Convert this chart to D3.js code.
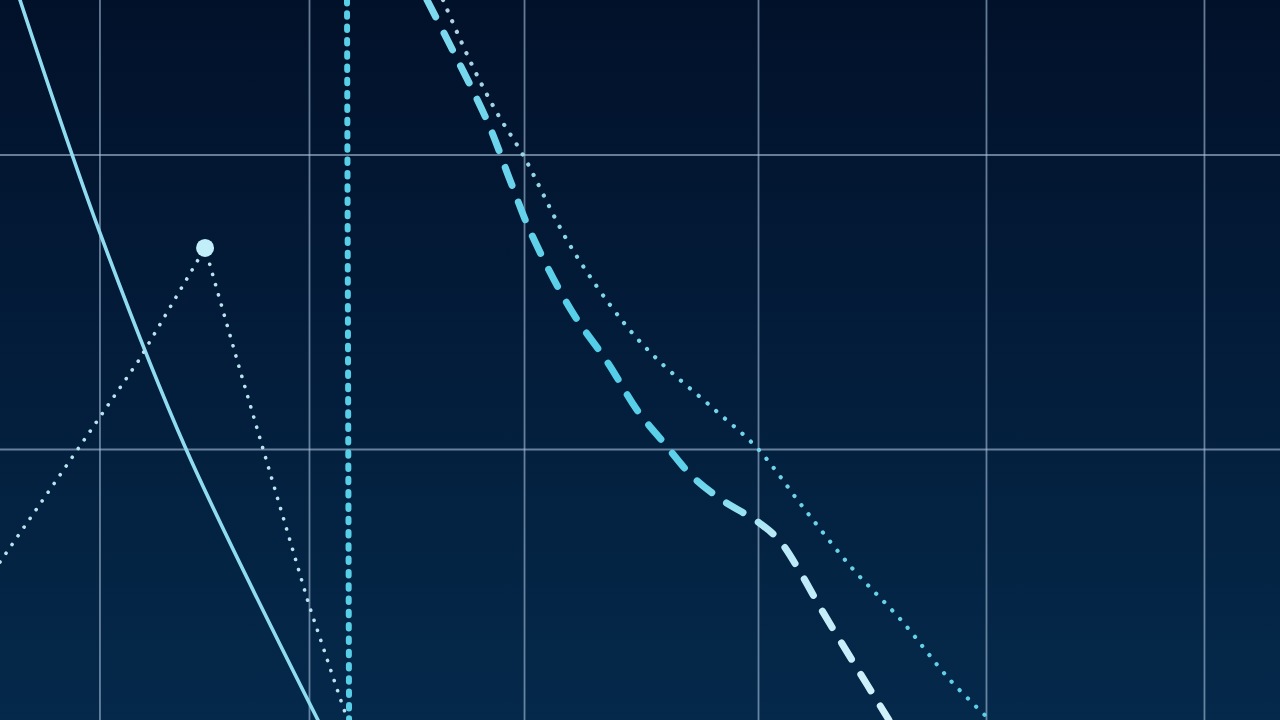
<!DOCTYPE html>
<html>
<head>
<meta charset="utf-8">
<script src="https://cdn.jsdelivr.net/npm/d3@7"></script>
<style>
  html, body { margin: 0; padding: 0; background: #031a33; }
  svg { display: block; }
</style>
</head>
<body>
<svg id="chart" width="1280" height="720"></svg>
<script>
// ---- data (x: 0..100 across, y: 0..100 bottom to top) ----
const xGridValues = [7.77, 24.14, 40.94, 59.22, 77.03, 94.06];
const yGridValues = [78.54, 37.64];

const solidX = [1.56, 7.81, 14.53, 24.84];
const solidY = [100, 67.64, 37.64, 0];

const peakX = [0, 6.09, 10.86, 16.02, 18.52, 20.55, 24.14, 26.80, 27.19];
const peakY = [21.94, 37.64, 50, 65.56, 50, 37.64, 15.97, 1.81, 0];
const peakMarkerX = [16.02];
const peakMarkerY = [65.56];

const verticalX = [27.11, 27.27];
const verticalY = [100, 0];

const dashedX = [33.36, 35.08, 38.13, 39.84, 41.48, 44.61, 47.50, 49.77, 51.88, 54.14, 56.41, 59.22, 60.86, 62.42, 64.06, 66.56, 69.45];
const dashedY = [100, 94.03, 82.92, 75, 67.64, 56.94, 49.58, 43.06, 38.47, 33.75, 30.56, 27.5, 25, 20.83, 15.69, 8.33, 0];

const dottedX = [34.61, 36.80, 38.83, 40.86, 44.61, 48.75, 51.41, 55.86, 59.22, 62.73, 66.56, 70.39, 74.22, 77.34];
const dottedY = [100, 91.25, 84.31, 78.47, 65.69, 55.14, 50, 43.06, 37.64, 29.58, 21.11, 13.89, 5.56, 0];

// ---- setup ----
const W = 1280, H = 720;
const svg = d3.select("#chart");
const x = d3.scaleLinear().domain([0, 100]).range([0, W]);
const y = d3.scaleLinear().domain([0, 100]).range([H, 0]);

const defs = svg.append("defs");
const bg = defs.append("linearGradient").attr("id", "bg")
  .attr("x1", 0).attr("y1", 0).attr("x2", 0).attr("y2", 1);
bg.append("stop").attr("offset", "0%").attr("stop-color", "#02112a");
bg.append("stop").attr("offset", "55%").attr("stop-color", "#031e3c");
bg.append("stop").attr("offset", "100%").attr("stop-color", "#05294b");

const dashGrad = defs.append("linearGradient").attr("id", "dashGrad")
  .attr("gradientUnits", "userSpaceOnUse")
  .attr("x1", 0).attr("y1", 0).attr("x2", 0).attr("y2", H);
dashGrad.append("stop").attr("offset", "0%").attr("stop-color", "#7fd9ee");
dashGrad.append("stop").attr("offset", "50%").attr("stop-color", "#52cde8");
dashGrad.append("stop").attr("offset", "66%").attr("stop-color", "#5fd2ea");
dashGrad.append("stop").attr("offset", "74%").attr("stop-color", "#b8e9f7");
dashGrad.append("stop").attr("offset", "100%").attr("stop-color", "#d2f1fb");

const dotGrad = defs.append("linearGradient").attr("id", "dotGrad")
  .attr("gradientUnits", "userSpaceOnUse")
  .attr("x1", 0).attr("y1", 0).attr("x2", 0).attr("y2", H);
dotGrad.append("stop").attr("offset", "0%").attr("stop-color", "#b4d2e2");
dotGrad.append("stop").attr("offset", "40%").attr("stop-color", "#7fd6ea");
dotGrad.append("stop").attr("offset", "100%").attr("stop-color", "#5ccfe6");

svg.append("rect").attr("width", W).attr("height", H).attr("fill", "url(#bg)");

// grid via axes
svg.append("g").attr("class", "grid-x")
  .attr("transform", `translate(0,${H})`)
  .call(d3.axisBottom(x).tickValues(xGridValues).tickSize(-H).tickFormat(""));
svg.append("g").attr("class", "grid-y")
  .call(d3.axisLeft(y).tickValues(yGridValues).tickSize(-W).tickFormat(""));
svg.selectAll(".grid-x .domain, .grid-y .domain").remove();
svg.selectAll(".grid-x line, .grid-y line")
  .attr("stroke", "#a8c2dc").attr("stroke-opacity", 0.6).attr("stroke-width", 1.8);

const pts = (xs, ys) => xs.map((v, i) => [v, ys[i]]);
const lineCurve = d3.line().x(d => x(d[0])).y(d => y(d[1])).curve(d3.curveCatmullRom.alpha(0.5));
const lineLin = d3.line().x(d => x(d[0])).y(d => y(d[1]));

// solid line
svg.append("path").attr("d", lineCurve(pts(solidX, solidY)))
  .attr("fill", "none").attr("stroke", "#8fdcf1").attr("stroke-width", 3.6)
  .attr("stroke-linecap", "round");

// peak dotted line
svg.append("path").attr("d", lineLin(pts(peakX, peakY)))
  .attr("fill", "none").attr("stroke", "#b9e3f0").attr("stroke-width", 3.6)
  .attr("stroke-dasharray", "0.1 10.5").attr("stroke-linecap", "round");
svg.selectAll("circle.peak").data(pts(peakMarkerX, peakMarkerY)).join("circle")
  .attr("class", "peak")
  .attr("cx", d => x(d[0])).attr("cy", d => y(d[1])).attr("r", 9)
  .attr("fill", "#c2eefa");

// vertical dotted line
svg.append("path").attr("d", lineLin(pts(verticalX, verticalY)))
  .attr("fill", "none").attr("stroke", "#58cee7").attr("stroke-width", 6)
  .attr("stroke-dasharray", "3.5 9.8").attr("stroke-linecap", "round");

// dotted line (right)
svg.append("path").attr("d", lineCurve(pts(dottedX, dottedY)))
  .attr("fill", "none").attr("stroke", "url(#dotGrad)").attr("stroke-width", 4.2)
  .attr("stroke-dasharray", "0.1 11.5").attr("stroke-linecap", "round");

// dashed line
svg.append("path").attr("d", lineCurve(pts(dashedX, dashedY)))
  .attr("fill", "none").attr("stroke", "url(#dashGrad)").attr("stroke-width", 7)
  .attr("stroke-dasharray", "19 18").attr("stroke-linecap", "round");
</script>
</body>
</html>
